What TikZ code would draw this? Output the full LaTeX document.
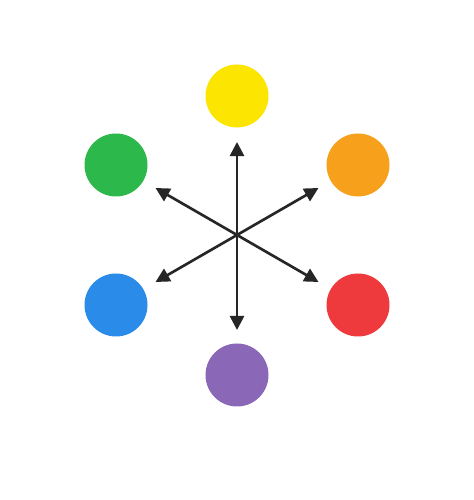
\documentclass[tikz,border=0pt]{standalone}
\usetikzlibrary{arrows.meta}

\definecolor{dotyellow}{HTML}{FCE500}
\definecolor{dotorange}{HTML}{F7A01C}
\definecolor{dotred}{HTML}{EE3A3D}
\definecolor{dotpurple}{HTML}{8B67B8}
\definecolor{dotblue}{HTML}{2B8BE8}
\definecolor{dotgreen}{HTML}{2CB84B}

\tikzset{
	dot/.style = {shape = circle,
				  minimum size = 0.63cm,
				  inner sep = 0pt},
	spoke/.style = {line width = 0.75pt,
					draw = black!85,
					{Triangle[length = 4pt, width = 4pt]}-{Triangle[length = 4pt, width = 4pt]}}
}

\begin{document}
\begin{tikzpicture}

	\useasboundingbox (0,0) rectangle (4.74,5.00);
	\fill[white] (0,0) rectangle (4.74,5.00);

	% the six colour dots
	\draw (2.37,4.04) node[dot, fill = dotyellow] (Y) {};
	\draw (3.58,3.35) node[dot, fill = dotorange] (Or) {};
	\draw (3.58,1.95) node[dot, fill = dotred] (R) {};
	\draw (2.37,1.25) node[dot, fill = dotpurple] (P) {};
	\draw (1.16,1.95) node[dot, fill = dotblue] (B) {};
	\draw (1.16,3.35) node[dot, fill = dotgreen] (G) {};

	% arrow ends
	\coordinate (up)    at (2.37,3.58);
	\coordinate (down)  at (2.37,1.70);
	\coordinate (uleft) at (1.555,3.12);
	\coordinate (uright) at (3.185,3.12);
	\coordinate (lleft) at (1.555,2.18);
	\coordinate (lright) at (3.185,2.18);

	\draw[spoke] (up) -- (down);
	\draw[spoke] (uleft) -- (lright);
	\draw[spoke] (uright) -- (lleft);

\end{tikzpicture}
\end{document}
